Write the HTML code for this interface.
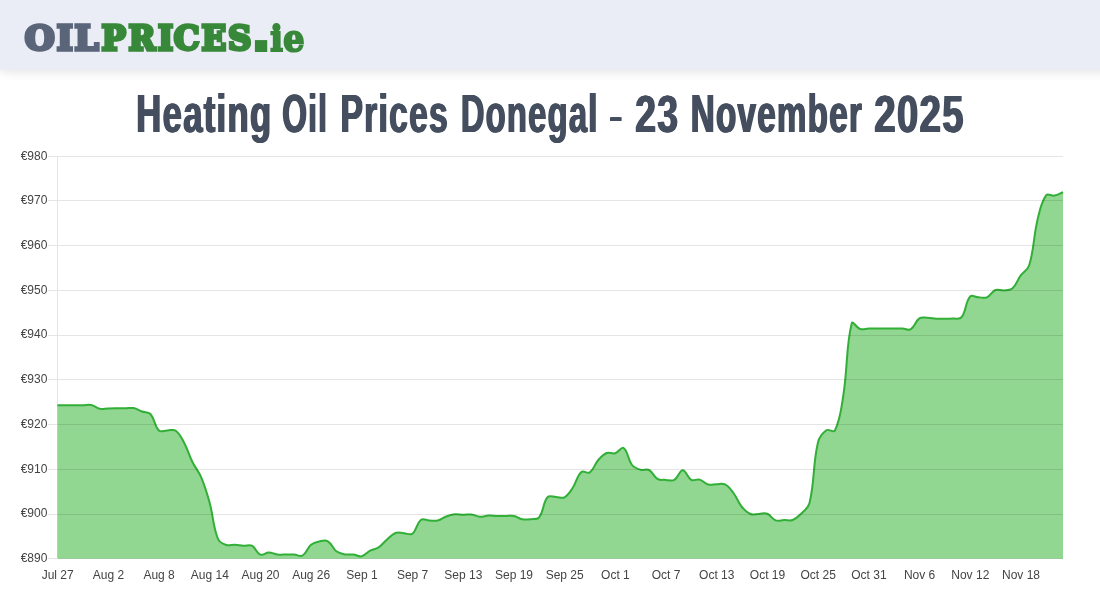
<!DOCTYPE html>
<html lang="en"><head><meta charset="utf-8"><title>Heating Oil Prices Donegal - 23 November 2025</title>
<style>
html,body{margin:0;padding:0;background:#fff;}
body{width:1100px;height:600px;position:relative;overflow:hidden;font-family:"Liberation Sans",sans-serif;}
#hdr{position:absolute;left:0;top:0;width:1130px;height:70px;background:#eaedf5;box-shadow:0 2px 10px rgba(0,0,0,0.11);}
#logo{position:absolute;left:0;top:0;}
#chart{position:absolute;left:0;top:150px;}
#title{margin:0;position:absolute;left:0;top:84.4px;width:1100px;height:60px;font:700 53.30px/60px 'Liberation Sans',sans-serif;color:#444e5f}#title span{position:absolute;left:0;top:0;white-space:nowrap;transform-origin:0 0;text-shadow:1.10px 0 0 #444e5f,-1.10px 0 0 #444e5f}
</style></head><body>
<div id="hdr">
<svg id="logo" width="340" height="70" viewBox="0 0 340 70"><g font-family="'DejaVu Serif','Liberation Serif',serif" font-weight="700" stroke-linejoin="miter"><text transform="translate(0,50.00) scale(1.0439,1)" x="23.79 54.45 71.42" y="0" font-size="32.90" stroke-width="3.40" fill="#5a6579" stroke="#5a6579">OIL</text><text transform="translate(0,50.00) scale(0.9846,1)" x="103.13 130.63 160.43 176.46 204.54 231.50" y="0" font-size="32.90" stroke-width="3.40" fill="#38883a" stroke="#38883a">PRICES</text><text transform="translate(248.9,51.7) scale(1.025,0.933)" font-family="'Liberation Sans',sans-serif" font-size="85" stroke="none" fill="#38883a">.</text><text transform="translate(0,50.65) scale(0.9359,1)" x="288.84 302.64" y="0" font-size="35.50" stroke-width="2.10" fill="#38883a" stroke="#38883a">ie</text></g></svg>
</div>
<h1 id="title">
<span style="transform:translateX(136.318px) scaleX(0.6496);letter-spacing:2.000px">Heating</span> 
<span style="transform:translateX(282.243px) scaleX(0.5954);letter-spacing:2.000px">Oil</span> 
<span style="transform:translateX(340.467px) scaleX(0.6311);letter-spacing:2.000px">Prices</span> 
<span style="transform:translateX(460.808px) scaleX(0.6145);letter-spacing:2.000px">Donegal</span> 
<span style="transform:translate(609.337px,15.08px) scale(0.7281,0.588);letter-spacing:0.000px">-</span> 
<span style="transform:translate(635.196px,1.52px) scale(0.7002,0.968);letter-spacing:2.000px">23</span> 
<span style="transform:translateX(690.776px) scaleX(0.6228);letter-spacing:2.000px">November</span> 
<span style="transform:translate(874.353px,1.52px) scale(0.7157,0.968);letter-spacing:2.000px">2025</span> 
</h1>
<svg id="chart" width="1100" height="450" viewBox="0 150 1100 450">
<path d="M57.50,405.30 C60.88,405.30 62.57,405.30 65.95,405.30 C69.33,405.30 71.02,405.32 74.40,405.30 C77.78,405.28 79.47,405.28 82.85,405.20 C86.23,405.12 88.07,404.23 91.30,404.90 C94.83,405.63 96.21,407.97 99.75,408.70 C102.97,409.37 104.82,408.48 108.20,408.40 C111.58,408.32 113.27,408.32 116.65,408.30 C120.03,408.28 121.72,408.34 125.10,408.30 C128.48,408.26 130.29,407.48 133.55,408.10 C137.05,408.76 138.56,410.30 142.00,411.50 C145.32,412.66 148.27,411.55 150.45,414.00 C155.03,419.15 154.25,425.99 158.89,430.50 C161.01,432.55 163.97,430.36 167.34,430.40 C170.73,430.44 173.35,428.88 175.79,430.70 C180.11,433.92 181.46,437.75 184.24,443.00 C188.21,450.47 188.93,454.89 192.69,462.50 C195.69,468.57 198.52,470.98 201.14,477.20 C205.28,487.02 206.77,492.28 209.59,502.60 C213.53,517.00 212.75,525.72 218.04,539.00 C219.51,542.68 222.77,543.74 226.49,545.00 C229.53,546.02 231.57,544.54 234.94,544.70 C238.33,544.86 240.00,545.60 243.39,545.80 C246.76,546.00 249.08,544.26 251.84,545.70 C255.84,547.78 256.34,553.01 260.29,554.60 C263.10,555.73 265.35,552.54 268.74,552.50 C272.11,552.46 273.77,553.97 277.19,554.40 C280.53,554.81 282.26,554.58 285.64,554.60 C289.02,554.62 290.72,554.32 294.09,554.50 C297.48,554.68 299.94,556.99 302.54,555.50 C306.70,553.11 306.93,548.18 310.99,544.80 C313.69,542.54 315.93,542.13 319.44,541.40 C322.69,540.73 325.23,539.75 327.89,541.30 C331.99,543.71 332.33,548.19 336.34,551.30 C339.09,553.43 341.30,553.74 344.79,554.40 C348.06,555.02 349.89,554.12 353.24,554.50 C356.65,554.88 358.58,557.02 361.68,556.30 C365.34,555.46 366.55,552.49 370.13,550.60 C373.31,548.93 375.63,549.36 378.58,547.40 C382.39,544.88 383.50,542.41 387.03,539.40 C390.26,536.65 391.72,534.38 395.48,533.00 C398.48,531.90 400.56,533.06 403.93,533.20 C407.32,533.34 410.05,535.52 412.38,533.70 C416.81,530.24 416.40,523.49 420.83,520.00 C423.16,518.17 425.90,520.30 429.28,520.40 C432.66,520.50 434.52,521.24 437.73,520.50 C441.28,519.68 442.69,517.78 446.18,516.50 C449.45,515.30 451.20,514.65 454.63,514.30 C457.96,513.97 459.70,514.76 463.08,514.80 C466.46,514.84 468.20,514.13 471.53,514.50 C474.96,514.89 476.56,516.48 479.98,516.70 C483.32,516.92 485.04,515.74 488.43,515.60 C491.80,515.46 493.50,515.92 496.88,516.00 C500.26,516.08 501.95,516.02 505.33,516.00 C508.71,515.98 510.52,515.28 513.78,515.90 C517.28,516.56 518.73,518.52 522.23,519.20 C525.49,519.84 527.34,519.58 530.68,519.20 C534.10,518.82 537.20,519.80 539.13,517.30 C543.96,511.00 542.70,503.05 547.58,497.20 C549.46,494.93 552.65,496.98 556.03,497.00 C559.41,497.02 561.80,498.80 564.47,497.30 C568.56,495.00 570.07,491.78 572.92,487.50 C576.83,481.62 576.80,475.99 581.37,471.90 C583.56,469.95 587.39,474.12 589.82,472.40 C594.15,469.36 594.37,464.48 598.27,460.00 C601.13,456.72 602.90,454.54 606.72,453.00 C609.66,451.82 612.06,454.12 615.17,453.20 C618.82,452.12 621.30,446.38 623.62,448.00 C628.06,451.10 627.59,459.25 632.07,465.00 C634.35,467.93 636.91,468.63 640.52,469.70 C643.67,470.63 646.20,468.51 648.97,470.00 C652.96,472.15 653.44,476.47 657.42,478.80 C660.20,480.43 662.48,479.68 665.87,479.90 C669.24,480.12 671.64,481.44 674.32,479.90 C678.40,477.56 679.38,470.22 682.77,470.20 C686.14,470.18 687.15,477.54 691.22,479.80 C693.91,481.30 696.53,478.73 699.67,479.60 C703.29,480.61 704.49,483.51 708.12,484.50 C711.25,485.35 713.19,484.22 716.57,484.20 C719.95,484.18 722.23,482.95 725.02,484.40 C728.99,486.47 730.60,489.16 733.47,493.00 C737.36,498.20 737.87,501.97 741.92,507.00 C744.63,510.37 746.55,512.44 750.37,514.00 C753.31,515.20 755.44,513.94 758.82,513.90 C762.19,513.86 764.29,512.65 767.26,513.80 C771.04,515.25 771.93,518.99 775.71,520.40 C778.69,521.51 780.78,520.18 784.16,520.10 C787.54,520.02 789.60,521.12 792.61,520.00 C796.36,518.60 798.13,516.75 801.06,513.80 C804.89,509.95 808.27,508.23 809.51,503.00 C815.03,479.71 812.53,465.90 817.96,442.50 C819.29,436.78 822.10,433.24 826.41,430.20 C828.86,428.48 833.58,433.23 834.86,430.60 C840.34,419.35 841.07,409.74 843.31,395.50 C847.83,366.82 845.83,346.63 851.76,323.30 C852.59,320.03 856.52,327.84 860.21,329.00 C863.28,329.96 865.28,328.70 868.66,328.60 C872.04,328.50 873.73,328.52 877.11,328.50 C880.49,328.48 882.18,328.50 885.56,328.50 C888.94,328.50 890.63,328.50 894.01,328.50 C897.39,328.50 899.08,328.36 902.46,328.50 C905.84,328.64 908.32,330.74 910.91,329.20 C915.08,326.70 915.18,321.22 919.36,318.40 C921.94,316.66 924.43,317.74 927.81,317.80 C931.19,317.86 932.87,318.52 936.26,318.70 C939.63,318.88 941.33,318.72 944.71,318.70 C948.09,318.68 949.80,318.90 953.16,318.60 C956.56,318.30 959.73,319.64 961.61,317.20 C966.49,310.84 965.16,302.36 970.05,296.60 C971.92,294.40 975.12,297.16 978.50,297.30 C981.88,297.44 984.04,298.56 986.95,297.30 C990.80,295.64 991.56,291.57 995.40,290.00 C998.32,288.81 1000.51,290.70 1003.85,290.40 C1007.27,290.10 1009.89,290.64 1012.30,288.50 C1016.65,284.64 1017.09,280.43 1020.75,275.40 C1023.85,271.15 1027.72,270.23 1029.20,265.30 C1034.48,247.75 1033.26,237.37 1037.65,219.20 C1040.02,209.37 1041.03,202.38 1046.10,195.30 C1047.79,192.94 1051.30,196.20 1054.55,195.60 C1058.06,194.96 1059.62,193.56 1063.00,192.20 L1063.00,558.75 L57.50,558.75 Z" fill="rgba(35,174,35,0.5)" stroke="none"/>
<path d="M57.50,405.30 C60.88,405.30 62.57,405.30 65.95,405.30 C69.33,405.30 71.02,405.32 74.40,405.30 C77.78,405.28 79.47,405.28 82.85,405.20 C86.23,405.12 88.07,404.23 91.30,404.90 C94.83,405.63 96.21,407.97 99.75,408.70 C102.97,409.37 104.82,408.48 108.20,408.40 C111.58,408.32 113.27,408.32 116.65,408.30 C120.03,408.28 121.72,408.34 125.10,408.30 C128.48,408.26 130.29,407.48 133.55,408.10 C137.05,408.76 138.56,410.30 142.00,411.50 C145.32,412.66 148.27,411.55 150.45,414.00 C155.03,419.15 154.25,425.99 158.89,430.50 C161.01,432.55 163.97,430.36 167.34,430.40 C170.73,430.44 173.35,428.88 175.79,430.70 C180.11,433.92 181.46,437.75 184.24,443.00 C188.21,450.47 188.93,454.89 192.69,462.50 C195.69,468.57 198.52,470.98 201.14,477.20 C205.28,487.02 206.77,492.28 209.59,502.60 C213.53,517.00 212.75,525.72 218.04,539.00 C219.51,542.68 222.77,543.74 226.49,545.00 C229.53,546.02 231.57,544.54 234.94,544.70 C238.33,544.86 240.00,545.60 243.39,545.80 C246.76,546.00 249.08,544.26 251.84,545.70 C255.84,547.78 256.34,553.01 260.29,554.60 C263.10,555.73 265.35,552.54 268.74,552.50 C272.11,552.46 273.77,553.97 277.19,554.40 C280.53,554.81 282.26,554.58 285.64,554.60 C289.02,554.62 290.72,554.32 294.09,554.50 C297.48,554.68 299.94,556.99 302.54,555.50 C306.70,553.11 306.93,548.18 310.99,544.80 C313.69,542.54 315.93,542.13 319.44,541.40 C322.69,540.73 325.23,539.75 327.89,541.30 C331.99,543.71 332.33,548.19 336.34,551.30 C339.09,553.43 341.30,553.74 344.79,554.40 C348.06,555.02 349.89,554.12 353.24,554.50 C356.65,554.88 358.58,557.02 361.68,556.30 C365.34,555.46 366.55,552.49 370.13,550.60 C373.31,548.93 375.63,549.36 378.58,547.40 C382.39,544.88 383.50,542.41 387.03,539.40 C390.26,536.65 391.72,534.38 395.48,533.00 C398.48,531.90 400.56,533.06 403.93,533.20 C407.32,533.34 410.05,535.52 412.38,533.70 C416.81,530.24 416.40,523.49 420.83,520.00 C423.16,518.17 425.90,520.30 429.28,520.40 C432.66,520.50 434.52,521.24 437.73,520.50 C441.28,519.68 442.69,517.78 446.18,516.50 C449.45,515.30 451.20,514.65 454.63,514.30 C457.96,513.97 459.70,514.76 463.08,514.80 C466.46,514.84 468.20,514.13 471.53,514.50 C474.96,514.89 476.56,516.48 479.98,516.70 C483.32,516.92 485.04,515.74 488.43,515.60 C491.80,515.46 493.50,515.92 496.88,516.00 C500.26,516.08 501.95,516.02 505.33,516.00 C508.71,515.98 510.52,515.28 513.78,515.90 C517.28,516.56 518.73,518.52 522.23,519.20 C525.49,519.84 527.34,519.58 530.68,519.20 C534.10,518.82 537.20,519.80 539.13,517.30 C543.96,511.00 542.70,503.05 547.58,497.20 C549.46,494.93 552.65,496.98 556.03,497.00 C559.41,497.02 561.80,498.80 564.47,497.30 C568.56,495.00 570.07,491.78 572.92,487.50 C576.83,481.62 576.80,475.99 581.37,471.90 C583.56,469.95 587.39,474.12 589.82,472.40 C594.15,469.36 594.37,464.48 598.27,460.00 C601.13,456.72 602.90,454.54 606.72,453.00 C609.66,451.82 612.06,454.12 615.17,453.20 C618.82,452.12 621.30,446.38 623.62,448.00 C628.06,451.10 627.59,459.25 632.07,465.00 C634.35,467.93 636.91,468.63 640.52,469.70 C643.67,470.63 646.20,468.51 648.97,470.00 C652.96,472.15 653.44,476.47 657.42,478.80 C660.20,480.43 662.48,479.68 665.87,479.90 C669.24,480.12 671.64,481.44 674.32,479.90 C678.40,477.56 679.38,470.22 682.77,470.20 C686.14,470.18 687.15,477.54 691.22,479.80 C693.91,481.30 696.53,478.73 699.67,479.60 C703.29,480.61 704.49,483.51 708.12,484.50 C711.25,485.35 713.19,484.22 716.57,484.20 C719.95,484.18 722.23,482.95 725.02,484.40 C728.99,486.47 730.60,489.16 733.47,493.00 C737.36,498.20 737.87,501.97 741.92,507.00 C744.63,510.37 746.55,512.44 750.37,514.00 C753.31,515.20 755.44,513.94 758.82,513.90 C762.19,513.86 764.29,512.65 767.26,513.80 C771.04,515.25 771.93,518.99 775.71,520.40 C778.69,521.51 780.78,520.18 784.16,520.10 C787.54,520.02 789.60,521.12 792.61,520.00 C796.36,518.60 798.13,516.75 801.06,513.80 C804.89,509.95 808.27,508.23 809.51,503.00 C815.03,479.71 812.53,465.90 817.96,442.50 C819.29,436.78 822.10,433.24 826.41,430.20 C828.86,428.48 833.58,433.23 834.86,430.60 C840.34,419.35 841.07,409.74 843.31,395.50 C847.83,366.82 845.83,346.63 851.76,323.30 C852.59,320.03 856.52,327.84 860.21,329.00 C863.28,329.96 865.28,328.70 868.66,328.60 C872.04,328.50 873.73,328.52 877.11,328.50 C880.49,328.48 882.18,328.50 885.56,328.50 C888.94,328.50 890.63,328.50 894.01,328.50 C897.39,328.50 899.08,328.36 902.46,328.50 C905.84,328.64 908.32,330.74 910.91,329.20 C915.08,326.70 915.18,321.22 919.36,318.40 C921.94,316.66 924.43,317.74 927.81,317.80 C931.19,317.86 932.87,318.52 936.26,318.70 C939.63,318.88 941.33,318.72 944.71,318.70 C948.09,318.68 949.80,318.90 953.16,318.60 C956.56,318.30 959.73,319.64 961.61,317.20 C966.49,310.84 965.16,302.36 970.05,296.60 C971.92,294.40 975.12,297.16 978.50,297.30 C981.88,297.44 984.04,298.56 986.95,297.30 C990.80,295.64 991.56,291.57 995.40,290.00 C998.32,288.81 1000.51,290.70 1003.85,290.40 C1007.27,290.10 1009.89,290.64 1012.30,288.50 C1016.65,284.64 1017.09,280.43 1020.75,275.40 C1023.85,271.15 1027.72,270.23 1029.20,265.30 C1034.48,247.75 1033.26,237.37 1037.65,219.20 C1040.02,209.37 1041.03,202.38 1046.10,195.30 C1047.79,192.94 1051.30,196.20 1054.55,195.60 C1058.06,194.96 1059.62,193.56 1063.00,192.20" fill="none" stroke="#32af37" stroke-width="2.0" stroke-linejoin="round" stroke-linecap="butt"/>
<path d="M48,156.5H57M58,156.5H1063.0" fill="none" stroke="rgba(0,0,0,0.1)" stroke-width="1"/>
<path d="M48,200.5H57M58,200.5H1063.0" fill="none" stroke="rgba(0,0,0,0.1)" stroke-width="1"/>
<path d="M48,245.5H57M58,245.5H1063.0" fill="none" stroke="rgba(0,0,0,0.1)" stroke-width="1"/>
<path d="M48,290.5H57M58,290.5H1063.0" fill="none" stroke="rgba(0,0,0,0.1)" stroke-width="1"/>
<path d="M48,335.5H57M58,335.5H1063.0" fill="none" stroke="rgba(0,0,0,0.1)" stroke-width="1"/>
<path d="M48,379.5H57M58,379.5H1063.0" fill="none" stroke="rgba(0,0,0,0.1)" stroke-width="1"/>
<path d="M48,424.5H57M58,424.5H1063.0" fill="none" stroke="rgba(0,0,0,0.1)" stroke-width="1"/>
<path d="M48,469.5H57M58,469.5H1063.0" fill="none" stroke="rgba(0,0,0,0.1)" stroke-width="1"/>
<path d="M48,514.5H57M58,514.5H1063.0" fill="none" stroke="rgba(0,0,0,0.1)" stroke-width="1"/>
<path d="M48,558.5H57M58,558.5H1063.0" fill="none" stroke="rgba(0,0,0,0.1)" stroke-width="1"/>
<line x1="57.5" x2="57.5" y1="156.0" y2="558.5" stroke="rgba(0,0,0,0.1)" stroke-width="1"/>
<g font-family="'Liberation Sans',sans-serif" font-size="12" fill="#444">
<text x="47.4" y="160.0" text-anchor="end">€980</text>
<text x="47.4" y="204.0" text-anchor="end">€970</text>
<text x="47.4" y="249.0" text-anchor="end">€960</text>
<text x="47.4" y="294.0" text-anchor="end">€950</text>
<text x="47.4" y="338.0" text-anchor="end">€940</text>
<text x="47.4" y="383.0" text-anchor="end">€930</text>
<text x="47.4" y="428.0" text-anchor="end">€920</text>
<text x="47.4" y="473.0" text-anchor="end">€910</text>
<text x="47.4" y="517.0" text-anchor="end">€900</text>
<text x="47.4" y="562.0" text-anchor="end">€890</text>
<text x="57.7" y="579.3" text-anchor="middle">Jul 27</text>
<text x="108.4" y="579.3" text-anchor="middle">Aug 2</text>
<text x="159.1" y="579.3" text-anchor="middle">Aug 8</text>
<text x="209.8" y="579.3" text-anchor="middle">Aug 14</text>
<text x="260.5" y="579.3" text-anchor="middle">Aug 20</text>
<text x="311.2" y="579.3" text-anchor="middle">Aug 26</text>
<text x="361.9" y="579.3" text-anchor="middle">Sep 1</text>
<text x="412.6" y="579.3" text-anchor="middle">Sep 7</text>
<text x="463.3" y="579.3" text-anchor="middle">Sep 13</text>
<text x="514.0" y="579.3" text-anchor="middle">Sep 19</text>
<text x="564.7" y="579.3" text-anchor="middle">Sep 25</text>
<text x="615.4" y="579.3" text-anchor="middle">Oct 1</text>
<text x="666.1" y="579.3" text-anchor="middle">Oct 7</text>
<text x="716.8" y="579.3" text-anchor="middle">Oct 13</text>
<text x="767.5" y="579.3" text-anchor="middle">Oct 19</text>
<text x="818.2" y="579.3" text-anchor="middle">Oct 25</text>
<text x="868.9" y="579.3" text-anchor="middle">Oct 31</text>
<text x="919.6" y="579.3" text-anchor="middle">Nov 6</text>
<text x="970.3" y="579.3" text-anchor="middle">Nov 12</text>
<text x="1021.0" y="579.3" text-anchor="middle">Nov 18</text>
</g>
</svg>
</body></html>
